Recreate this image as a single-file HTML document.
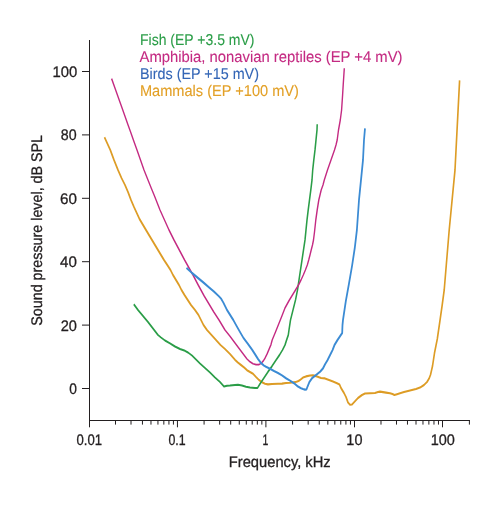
<!DOCTYPE html>
<html><head><meta charset="utf-8"><style>
html,body{margin:0;padding:0;background:#fff;}
svg{display:block;}
text{font-family:'Liberation Sans', Arial, sans-serif;font-size:15.3px;fill:#231f20;text-rendering:geometricPrecision;stroke:#231f20;stroke-width:0.3px;}
</style></head><body>
<svg width="500" height="505" viewBox="0 0 500 505">
<path d="M89.5 40V420.5H469.9" fill="none" stroke="#231f20" stroke-width="1"/>
<line x1="82" y1="388.50" x2="89.5" y2="388.50" stroke="#231f20" stroke-width="1"/>
<line x1="82" y1="325.10" x2="89.5" y2="325.10" stroke="#231f20" stroke-width="1"/>
<line x1="82" y1="261.70" x2="89.5" y2="261.70" stroke="#231f20" stroke-width="1"/>
<line x1="82" y1="198.30" x2="89.5" y2="198.30" stroke="#231f20" stroke-width="1"/>
<line x1="82" y1="134.90" x2="89.5" y2="134.90" stroke="#231f20" stroke-width="1"/>
<line x1="82" y1="71.50" x2="89.5" y2="71.50" stroke="#231f20" stroke-width="1"/>
<line x1="89.50" y1="420" x2="89.50" y2="427.3" stroke="#231f20" stroke-width="1"/>
<line x1="115.50" y1="420" x2="115.50" y2="424.6" stroke="#231f20" stroke-width="1"/>
<line x1="131.00" y1="420" x2="131.00" y2="424.6" stroke="#231f20" stroke-width="1"/>
<line x1="142.45" y1="420" x2="142.45" y2="424.6" stroke="#231f20" stroke-width="1"/>
<line x1="150.97" y1="420" x2="150.97" y2="424.6" stroke="#231f20" stroke-width="1"/>
<line x1="157.94" y1="420" x2="157.94" y2="424.6" stroke="#231f20" stroke-width="1"/>
<line x1="163.83" y1="420" x2="163.83" y2="424.6" stroke="#231f20" stroke-width="1"/>
<line x1="168.93" y1="420" x2="168.93" y2="424.6" stroke="#231f20" stroke-width="1"/>
<line x1="173.43" y1="420" x2="173.43" y2="424.6" stroke="#231f20" stroke-width="1"/>
<line x1="177.45" y1="420" x2="177.45" y2="427.3" stroke="#231f20" stroke-width="1"/>
<line x1="204.08" y1="420" x2="204.08" y2="424.6" stroke="#231f20" stroke-width="1"/>
<line x1="219.65" y1="420" x2="219.65" y2="424.6" stroke="#231f20" stroke-width="1"/>
<line x1="230.70" y1="420" x2="230.70" y2="424.6" stroke="#231f20" stroke-width="1"/>
<line x1="239.27" y1="420" x2="239.27" y2="424.6" stroke="#231f20" stroke-width="1"/>
<line x1="246.28" y1="420" x2="246.28" y2="424.6" stroke="#231f20" stroke-width="1"/>
<line x1="252.20" y1="420" x2="252.20" y2="424.6" stroke="#231f20" stroke-width="1"/>
<line x1="257.33" y1="420" x2="257.33" y2="424.6" stroke="#231f20" stroke-width="1"/>
<line x1="261.85" y1="420" x2="261.85" y2="424.6" stroke="#231f20" stroke-width="1"/>
<line x1="265.90" y1="420" x2="265.90" y2="427.3" stroke="#231f20" stroke-width="1"/>
<line x1="292.57" y1="420" x2="292.57" y2="424.6" stroke="#231f20" stroke-width="1"/>
<line x1="308.17" y1="420" x2="308.17" y2="424.6" stroke="#231f20" stroke-width="1"/>
<line x1="319.24" y1="420" x2="319.24" y2="424.6" stroke="#231f20" stroke-width="1"/>
<line x1="327.83" y1="420" x2="327.83" y2="424.6" stroke="#231f20" stroke-width="1"/>
<line x1="334.84" y1="420" x2="334.84" y2="424.6" stroke="#231f20" stroke-width="1"/>
<line x1="340.78" y1="420" x2="340.78" y2="424.6" stroke="#231f20" stroke-width="1"/>
<line x1="345.91" y1="420" x2="345.91" y2="424.6" stroke="#231f20" stroke-width="1"/>
<line x1="350.45" y1="420" x2="350.45" y2="424.6" stroke="#231f20" stroke-width="1"/>
<line x1="354.50" y1="420" x2="354.50" y2="427.3" stroke="#231f20" stroke-width="1"/>
<line x1="380.99" y1="420" x2="380.99" y2="424.6" stroke="#231f20" stroke-width="1"/>
<line x1="396.49" y1="420" x2="396.49" y2="424.6" stroke="#231f20" stroke-width="1"/>
<line x1="407.48" y1="420" x2="407.48" y2="424.6" stroke="#231f20" stroke-width="1"/>
<line x1="416.01" y1="420" x2="416.01" y2="424.6" stroke="#231f20" stroke-width="1"/>
<line x1="422.98" y1="420" x2="422.98" y2="424.6" stroke="#231f20" stroke-width="1"/>
<line x1="428.87" y1="420" x2="428.87" y2="424.6" stroke="#231f20" stroke-width="1"/>
<line x1="433.97" y1="420" x2="433.97" y2="424.6" stroke="#231f20" stroke-width="1"/>
<line x1="438.47" y1="420" x2="438.47" y2="424.6" stroke="#231f20" stroke-width="1"/>
<line x1="442.50" y1="420" x2="442.50" y2="427.3" stroke="#231f20" stroke-width="1"/>
<line x1="469.4" y1="420" x2="469.4" y2="424.6" stroke="#231f20" stroke-width="1"/>
<g transform="scale(0.78 1)"><path d="M133.97 137.2 L141.41 150 L146.15 160 L151.28 170 L155.77 178 L160.26 185 L164.10 192 L167.95 200 L171.79 207 L178.85 219 L187.18 230 L194.87 240 L202.56 250 L206.41 255 L210.26 260 L214.49 265 L218.59 270 L221.79 275 L229.49 285 L232.69 290 L236.54 295 L244.87 305 L250.00 310 L254.49 315 L257.69 320 L260.90 325 L265.38 330 L271.15 335 L276.92 340 L282.69 345 L288.46 349 L294.87 354 L301.28 359.8 L305.13 362.6 L308.97 365 L312.82 367.4 L316.67 370.2 L320.51 372 L324.36 373.8 L328.21 377 L332.05 380 L335.90 382.2 L339.74 383.8 L343.59 384.4 L348.72 384 L356.41 383.8 L361.54 383.6 L366.67 383 L371.79 382.8 L376.92 382.2 L380.13 381.8 L382.69 381 L385.26 379.6 L388.46 377.6 L392.31 376.4 L397.44 375.5 L401.28 375.4 L406.41 376.4 L411.54 378 L416.67 378.4 L421.79 380 L426.92 381.6 L432.05 383.2 L435.26 384.5 L437.18 388 L441.03 393 L443.59 397 L446.15 402.5 L448.72 404.8 L451.28 404.5 L455.13 401.2 L458.97 398 L464.10 395 L467.95 393.5 L474.36 393.2 L480.77 393 L484.62 392 L487.18 391.6 L494.87 392.6 L500.00 393.2 L503.21 394 L505.64 395 L508.97 394.2 L512.82 393.2 L517.95 392 L525.64 390.5 L533.33 389 L538.46 387.6 L543.59 385 L547.44 382 L550.00 378.7 L551.92 374.9 L553.21 370.5 L554.49 366.1 L555.77 359.6 L557.05 353.1 L558.97 345.4 L560.64 339 L563.85 321.7 L566.79 305.8 L569.49 290 L575.90 230 L583.33 170 L589.23 80.4" fill="none" stroke="#dd9c25" stroke-width="2.1" stroke-linejoin="round" stroke-linecap="butt"/></g>
<g transform="scale(0.76 1)"><path d="M176.05 304.2 L181.58 310 L188.16 316 L194.74 322 L201.32 328.5 L207.89 335 L211.84 337.5 L217.11 340.5 L223.68 343.3 L230.26 346.5 L236.84 349 L243.42 350.8 L247.37 352.5 L252.63 355.5 L257.89 359.5 L263.16 363.5 L269.74 368 L276.32 372.5 L282.89 377.5 L289.47 382 L294.74 386.5 L298.68 385.7 L302.63 385.5 L309.21 385 L313.16 384.8 L318.42 385.5 L323.68 386.8 L328.95 387.5 L335.53 388 L338.82 388 L342.11 383.8 L347.37 377.8 L352.63 371.8 L357.89 366.2 L363.16 360.2 L367.76 355 L371.71 350 L375.00 345 L377.11 340 L379.34 335 L380.26 330 L382.24 320 L385.53 310 L388.82 300 L391.45 290 L393.42 280 L395.39 270 L397.37 260 L399.34 250 L401.32 240 L402.63 230 L403.95 220 L405.53 210 L407.24 200 L408.95 190 L410.53 180 L411.45 170 L412.89 160 L414.47 150 L415.79 140 L417.11 130 L417.37 124.3" fill="none" stroke="#2a9d47" stroke-width="2.0" stroke-linejoin="round" stroke-linecap="butt"/></g>
<g transform="scale(0.88 1)"><path d="M126.82 78.6 L131.42 90 L135.45 100 L137.50 105 L141.93 116 L145.11 124 L148.41 132 L151.59 140 L155.68 150 L159.66 160 L163.64 170 L168.18 180 L171.82 188 L175.57 196 L181.82 210 L186.93 220 L192.05 230 L197.73 240 L203.75 250 L209.77 260 L212.95 265 L219.32 275 L225.23 285 L232.05 296 L237.50 304 L242.95 312 L248.86 320 L255.68 330 L261.36 336.2 L267.05 343 L270.45 347 L273.86 351 L277.27 355 L280.68 359 L284.09 361.8 L287.50 363.8 L290.91 364.6 L294.32 364.6 L297.16 363 L299.43 360.6 L301.14 358.2 L303.41 354.2 L305.68 349.4 L307.95 344.6 L309.32 340 L313.07 332 L316.70 324 L320.34 316 L323.86 308 L328.86 300 L335.80 290 L339.20 285 L342.05 280 L344.66 275 L347.05 270 L349.20 265 L350.80 260 L352.27 255 L353.64 250 L355.11 245 L356.25 240 L357.39 232 L358.86 220 L360.45 210 L362.27 200 L363.64 195 L365.00 190 L367.05 185 L368.52 180 L372.16 170 L376.14 160 L380.11 150 L381.82 145 L383.18 140 L384.66 130 L386.70 120 L388.18 110 L389.32 95 L390.00 85 L391.25 68.3" fill="none" stroke="#c42a82" stroke-width="1.6" stroke-linejoin="round" stroke-linecap="butt"/></g>
<g transform="scale(0.82 1)"><path d="M227.44 267.8 L234.15 273 L241.46 278 L248.78 283 L254.88 287.3 L260.98 291.6 L266.59 296 L269.76 298.8 L272.32 302.5 L276.83 310 L284.51 320 L288.54 326 L292.68 332 L296.95 338 L302.44 344 L307.68 350 L311.59 355 L314.63 359 L318.29 363 L321.95 365.6 L324.39 366.8 L329.27 368.8 L334.15 371 L339.02 373 L343.90 375.4 L348.78 378.2 L353.66 380.6 L358.54 383.2 L363.41 386.6 L367.07 388.2 L369.51 389 L371.95 389.6 L373.78 389.4 L375.12 386.4 L377.32 382 L380.73 378 L385.61 374.8 L390.49 371.6 L393.90 368.4 L396.34 364.4 L399.27 360.4 L401.71 356.4 L404.15 352.4 L405.61 350 L407.93 345 L411.59 340 L417.32 333 L417.44 330 L417.68 325 L418.29 320 L421.71 301.3 L425.61 283.5 L429.39 265.6 L432.68 247.8 L435.24 230 L437.80 200 L440.24 180 L442.68 160 L443.90 140 L445.12 128.3" fill="none" stroke="#3b8bd4" stroke-width="2.15" stroke-linejoin="round" stroke-linecap="butt"/></g>
<text x="69.30" y="393.90" style="font-size:15.3px" textLength="7.66" lengthAdjust="spacingAndGlyphs">0</text>
<text x="60.70" y="330.50" style="font-size:15.3px" textLength="16.21" lengthAdjust="spacingAndGlyphs">20</text>
<text x="60.10" y="267.10" style="font-size:15.3px" textLength="16.82" lengthAdjust="spacingAndGlyphs">40</text>
<text x="60.01" y="203.70" style="font-size:15.3px" textLength="16.91" lengthAdjust="spacingAndGlyphs">60</text>
<text x="60.80" y="140.30" style="font-size:15.3px" textLength="15.81" lengthAdjust="spacingAndGlyphs">80</text>
<text x="52.53" y="76.90" style="font-size:15.3px" textLength="24.79" lengthAdjust="spacingAndGlyphs">100</text>
<text x="76.50" y="444.60" style="font-size:15.3px" textLength="25.57" lengthAdjust="spacingAndGlyphs">0.01</text>
<text x="168.40" y="444.60" style="font-size:15.3px" textLength="17.22" lengthAdjust="spacingAndGlyphs">0.1</text>
<text x="262.51" y="444.60" style="font-size:15.3px" textLength="5.84" lengthAdjust="spacingAndGlyphs">1</text>
<text x="346.36" y="444.60" style="font-size:15.3px" textLength="16.06" lengthAdjust="spacingAndGlyphs">10</text>
<text x="430.75" y="444.60" style="font-size:15.3px" textLength="24.15" lengthAdjust="spacingAndGlyphs">100</text>
<text x="228.84" y="466.70" style="font-size:15.3px" textLength="101.81" lengthAdjust="spacingAndGlyphs">Frequency, kHz</text>
<text transform="translate(42 325.73) rotate(-90)" style="font-size:15.3px" textLength="190.82" lengthAdjust="spacingAndGlyphs">Sound pressure level, dB SPL</text>
<text x="140.00" y="44.80" style="font-size:15.6px;fill:#2a9d47;stroke:#2a9d47;stroke-width:0.1px" textLength="114.49" lengthAdjust="spacingAndGlyphs">Fish (EP +3.5 mV)</text>
<text x="139.50" y="61.80" style="font-size:15.6px;fill:#c42a82;stroke:#c42a82;stroke-width:0.1px" textLength="263.02" lengthAdjust="spacingAndGlyphs">Amphibia, nonavian reptiles (EP +4 mV)</text>
<text x="139.98" y="78.70" style="font-size:15.6px;fill:#3466b6;stroke:#3466b6;stroke-width:0.1px" textLength="119.00" lengthAdjust="spacingAndGlyphs">Birds (EP +15 mV)</text>
<text x="139.96" y="95.60" style="font-size:15.6px;fill:#e3a026;stroke:#e3a026;stroke-width:0.1px" textLength="158.97" lengthAdjust="spacingAndGlyphs">Mammals (EP +100 mV)</text>
</svg>
</body></html>
